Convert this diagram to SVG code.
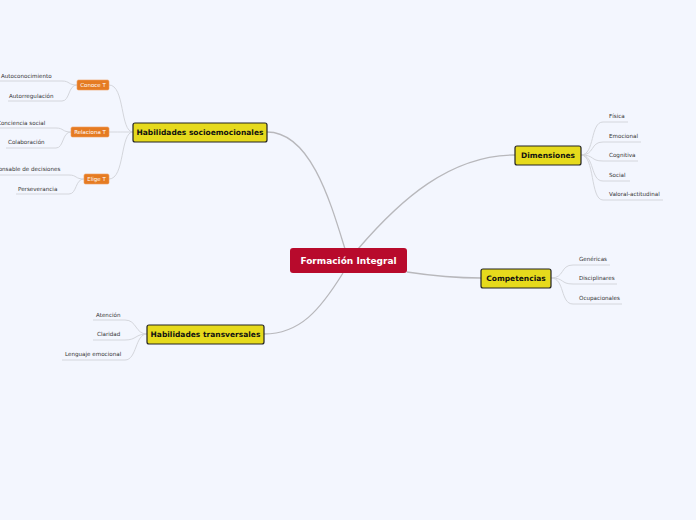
<svg xmlns="http://www.w3.org/2000/svg" width="696" height="520" viewBox="0 0 696 520">
<style>
text{font-family:"DejaVu Sans",sans-serif}
.c{fill:none;stroke:#b8b8bc;stroke-width:1.3}
.l{fill:none;stroke:#d4d6dc;stroke-width:1}
.leaf{font-size:5.6px;fill:#333}
.main{fill:#e6da1c;stroke:#222;stroke-width:1.2}
.mt{font-size:7.5px;font-weight:bold;fill:#111;text-anchor:middle}
.sub{fill:#e57b22;stroke:#f0a060;stroke-width:.6}
.st{font-size:5.5px;fill:#fff;text-anchor:middle}
</style>
<rect width="696" height="520" fill="#f3f6fe"/>
<g id="connectors">
<path class="c" d="M345,249 C330,200 310,132 267,132"/>
<path class="c" d="M358,249 C400,200 450,155 515,155"/>
<path class="c" d="M407,272 C440,277 460,278 481,278"/>
<path class="c" d="M343,273 C320,310 300,334 264,334"/>
<path class="l" d="M133,132 C120,132 125,85 109,85 M133,132 C120,132 125,132 109,132 M133,132 C120,132 125,179 109,179"/>
<path class="l" d="M77,85 C68,85 70,81 62,81 L0,81 M77,85 C68,85 70,101 62,101 L8,101"/>
<path class="l" d="M71,132 C62,132 64,128 56,128 L0,128 M71,132 C62,132 64,148 56,148 L6,148"/>
<path class="l" d="M84,179 C75,179 77,175 69,175 L0,175 M84,179 C75,179 77,194 69,194 L16,194"/>
<path class="l" d="M581,155 C595,155 590,122 603,122 L628,122 M581,155 C595,155 590,142 603,142 L641,142 M581,155 C595,155 590,161 603,161 L638,161 M581,155 C595,155 590,181 603,181 L630,181 M581,155 C595,155 590,200 603,200 L663,200"/>
<path class="l" d="M551,278 C565,278 560,265 573,265 L610,265 M551,278 C565,278 560,284 573,284 L617,284 M551,278 C565,278 560,304 573,304 L622,304"/>
<path class="l" d="M147,334 C135,334 137,320 125,320 L93,320 M147,334 C135,334 137,340 125,340 L93,340 M147,334 C135,334 137,360 125,360 L62,360"/>
</g>
<g id="central"><rect x="290" y="248" width="117" height="25" rx="3" fill="#b80a2c"/><text x="348.5" y="264" font-size="9" font-weight="bold" fill="#fff" text-anchor="middle">Formación Integral</text></g>
<g id="hs"><rect class="main" x="133" y="123" width="134" height="19" rx="2"/><text class="mt" x="200" y="135">Habilidades socioemocionales</text></g>
<g id="dim"><rect class="main" x="515" y="146" width="66" height="19" rx="2"/><text class="mt" x="548" y="158">Dimensiones</text></g>
<g id="comp"><rect class="main" x="481" y="269" width="70" height="19" rx="2"/><text class="mt" x="516" y="281">Competencias</text></g>
<g id="ht"><rect class="main" x="147" y="325" width="117" height="19" rx="2"/><text class="mt" x="205.5" y="337">Habilidades transversales</text></g>
<g id="conoce"><rect class="sub" x="77" y="80" width="32" height="10" rx="1.5"/><text class="st" x="93" y="87">Conoce T</text></g>
<g id="relaciona"><rect class="sub" x="71" y="127" width="38" height="10" rx="1.5"/><text class="st" x="90" y="134">Relaciona T</text></g>
<g id="elige"><rect class="sub" x="84" y="174" width="25" height="10" rx="1.5"/><text class="st" x="96.5" y="181">Elige T</text></g>
<g id="leaves" class="leaf">
<text x="1" y="78">Autoconocimiento</text>
<text x="9" y="98">Autorregulación</text>
<text x="-3" y="125">Conciencia social</text>
<text x="8" y="144">Colaboración</text>
<text x="-30" y="171">Toma responsable de decisiones</text>
<text x="18" y="191">Perseverancia</text>
<text x="609" y="118">Física</text>
<text x="609" y="138">Emocional</text>
<text x="609" y="157">Cognitiva</text>
<text x="609" y="177">Social</text>
<text x="609" y="196">Valoral-actitudinal</text>
<text x="579" y="261">Genéricas</text>
<text x="579" y="280">Disciplinares</text>
<text x="579" y="300">Ocupacionales</text>
<text x="96" y="317">Atención</text>
<text x="97" y="336">Claridad</text>
<text x="65" y="356">Lenguaje emocional</text>
</g>
</svg>
